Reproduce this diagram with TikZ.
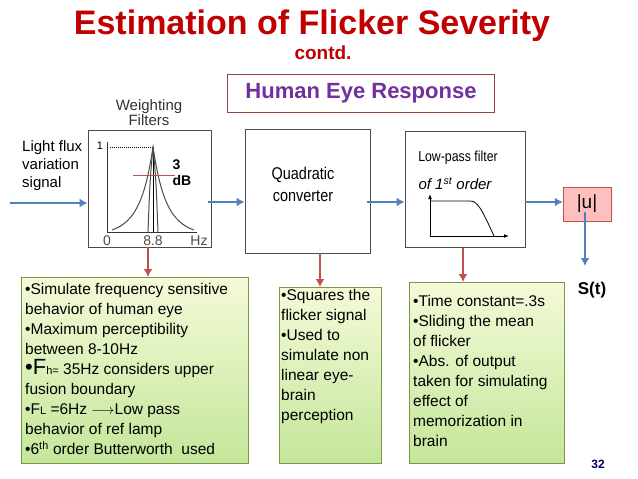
\documentclass[tikz,border=0pt]{standalone}
\usepackage{fontspec}
\setmainfont{Liberation Sans}
\usetikzlibrary{arrows.meta}
\definecolor{ttl}{HTML}{C00000}
\definecolor{purp}{HTML}{7030A0}
\definecolor{blu}{HTML}{4F81BD}
\definecolor{redar}{HTML}{C0504D}
\definecolor{grn}{HTML}{9BBB59}
\definecolor{gtop}{HTML}{F4FAD8}
\definecolor{gbot}{HTML}{C4E69A}
\begin{document}
\begin{tikzpicture}[x=1pt,y=-1pt,
 blk/.style={draw=black!70,line width=0.8pt,fill=white},
 note/.style={draw=grn!80!black,line width=0.6pt,top color=gtop,bottom color=gbot},
 barr/.style={draw=blu,line width=2pt,-{Latex[length=8pt,width=9pt]}},
 rarr/.style={draw=redar,line width=2pt,-{Latex[length=8pt,width=9pt]}},
 ntxt/.style={font=\fontsize{15.5}{20}\selectfont,align=left,anchor=north west,inner sep=0pt}]
\useasboundingbox[fill=white] (0,0) rectangle (638,479);
\node[font=\bfseries\fontsize{34}{36}\selectfont,text=ttl] (title) at (312,26) {Estimation of Flicker Severity};
\node[font=\bfseries\fontsize{19}{20}\selectfont,text=ttl] (contd) at (323,53) {contd.};
\node[draw=redar!80!black,line width=0.8pt,minimum width=267pt,minimum height=38pt,font=\bfseries\fontsize{22}{24}\selectfont,text=purp] (her) at (361,93) {Human Eye Response};
% blocks
\node[blk,minimum width=123pt,minimum height=117pt] (wf) at (149.5,188.5) {};
\node[font=\fontsize{15}{13}\selectfont,align=center,text=black!80] (wft) at (149,113) {Weighting\\Filters};
\node[blk,minimum width=125pt,minimum height=124pt] (qc) at (307.5,191) {};
\node[font=\fontsize{17}{22}\selectfont,xscale=0.85,align=center] (qct) at (303,184) {Quadratic\\converter};
\node[blk,minimum width=120pt,minimum height=116pt] (lp) at (465,189.5) {};
\node[font=\fontsize{14.5}{15}\selectfont,xscale=0.85] (lpt) at (458,158) {Low-pass filter};
\node[font=\itshape\fontsize{15}{16}\selectfont] (lpo) at (455,184) {of 1\textsuperscript{st} order};
\node[draw=redar,fill=red!25,minimum width=48pt,minimum height=34pt,inner sep=0pt,font=\fontsize{19}{20}\selectfont] (u) at (587,204) {|u|};
% weighting plot
\draw[line width=1pt,black!80] (107,142) -- (107,232) -- (197,232);
\draw[line width=1pt,densely dotted] (110,147) -- (153,147);
\draw[line width=1pt] (153,147) -- (153,232);
\draw[line width=1pt,black!70] (112,230) .. controls (135,222) and (145,200) .. (153,147) .. controls (161,200) and (171,222) .. (194,230);
\draw[line width=1pt,black!70] (148,232) .. controls (150,180) .. (153,147) .. controls (156,180) .. (158,232);
\draw[redar,line width=1pt] (133,175) -- (175,175);
\node[font=\bfseries\fontsize{14}{16}\selectfont,align=left] (db) at (182,173) {3\\dB};
\node[font=\fontsize{11}{12}\selectfont] (l1) at (100,146) {1};
\node[font=\fontsize{14}{14}\selectfont,text=black!70] (l0) at (107,241) {0};
\node[font=\fontsize{14}{14}\selectfont,text=black!70] (l88) at (153,241) {8.8};
\node[font=\fontsize{14}{14}\selectfont,text=black!70] (lhz) at (199,241) {Hz};
% lpf plot
\draw[line width=0.8pt,-{Latex[length=5pt]}] (430,237) -- (430,194);
\draw[line width=0.8pt,-{Latex[length=5pt]}] (430,236) -- (509,236);
\draw[line width=0.8pt] (430,201) -- (470,201) .. controls (478,201) and (482,210) .. (494,236);
% input
\node[font=\fontsize{15}{18}\selectfont,align=left,anchor=north west,inner sep=0pt] (lf) at (22,140) {Light flux\\variation\\signal};
\coordinate (in) at (10,203);
\coordinate (st) at (585,266);
\coordinate (y202) at (0,202);
\draw[barr] (in) -- (wf.west|-in);
\draw[barr] (208,202) -- (qc.west|-y202);
\draw[barr] (367,202) -- (lp.west|-y202);
\draw[barr] (lp.east|-y202) -- (u.west|-y202);
\draw[barr] (585,212) -- (st);
\node[font=\bfseries\fontsize{17}{18}\selectfont] (stt) at (592,290) {S(t)};
% notes
\node[note,minimum width=227pt,minimum height=186pt,anchor=north west,inner sep=0pt] (n1) at (21,277) {};
\node[note,minimum width=102pt,minimum height=176pt,anchor=north west,inner sep=0pt] (n2) at (279,287) {};
\node[note,minimum width=155pt,minimum height=181pt,anchor=north west,inner sep=0pt] (n3) at (409,282) {};
\coordinate (x1) at (148,0);
\coordinate (x2) at (320,0);
\coordinate (x3) at (463,0);
\draw[rarr] (x1|-wf.south) -- (x1|-n1.north);
\draw[rarr] (x2|-qc.south) -- (x2|-n2.north);
\draw[rarr] (x3|-lp.south) -- (x3|-n3.north);
\node[ntxt] (t1) at (25,283) {•Simulate frequency sensitive\\behavior of human eye\\•Maximum perceptibility\\between 8-10Hz\\{\fontsize{22}{20}\selectfont•F}{\fontsize{11}{12}\selectfont h=} 35Hz considers upper\\fusion boundary\\•F{\fontsize{11}{12}\selectfont L} =6Hz $\longrightarrow$Low pass\\behavior of ref lamp\\•6\textsuperscript{th} order Butterworth\ \ used};
\node[ntxt] (t2) at (281,289) {•Squares the\\flicker signal\\•Used to\\simulate non\\linear eye-\\brain\\perception};
\node[ntxt] (t3) at (413,295) {•Time constant=.3s\\•Sliding the mean\\of flicker\\•Abs. of output\\taken for simulating\\effect of\\memorization in\\brain};
\node[font=\bfseries\fontsize{12}{12}\selectfont,text=blue!40!black] (pg) at (598,464) {32};
\end{tikzpicture}
\end{document}
